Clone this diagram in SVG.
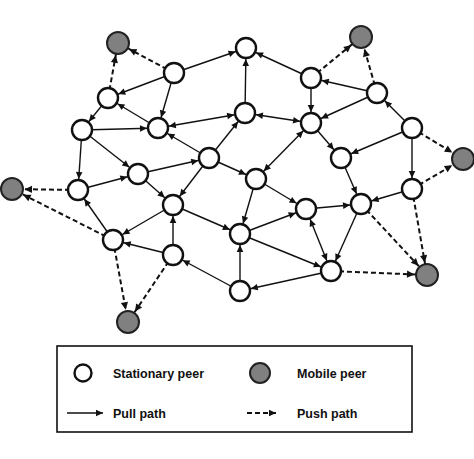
<svg xmlns="http://www.w3.org/2000/svg" width="474" height="459" viewBox="0 0 474 459">
<style>
.e{stroke:#111;stroke-width:1.4;fill:none;marker-end:url(#ah)}
.b{marker-start:url(#ah)}
.d{stroke:#111;stroke-width:2;stroke-dasharray:5 3;fill:none;marker-end:url(#ahm)}
.s{fill:#fff;stroke:#111;stroke-width:2.4}
.m{fill:#808080;stroke:#222;stroke-width:2}
.t{font-family:"Liberation Sans",Arial,sans-serif;font-size:12.5px;font-weight:bold;fill:#111}
</style>
<defs>
<marker id="ah" markerUnits="userSpaceOnUse" viewBox="-20 -5 22 10" refX="0" refY="0" markerWidth="22" markerHeight="10" orient="auto-start-reverse">
<path d="M-18,-3.3 L-11,0 L-18,3.3 z" fill="#111"/>
</marker>
<marker id="ahm" markerUnits="userSpaceOnUse" viewBox="-22 -5 24 10" refX="0" refY="0" markerWidth="24" markerHeight="10" orient="auto">
<path d="M-20,-3.6 L-12.5,0 L-20,3.6 z" fill="#111"/>
</marker>
<marker id="ahl" markerUnits="userSpaceOnUse" viewBox="-8 -5 10 10" refX="0" refY="0" markerWidth="10" markerHeight="10" orient="auto">
<path d="M-7,-3.3 L0,0 L-7,3.3 z" fill="#111"/>
</marker>
</defs>
<g id="connectors">
<line class="e" x1="174" y1="73" x2="246" y2="48"/>
<line class="e" x1="174" y1="73" x2="108" y2="98"/>
<line class="e" x1="174" y1="73" x2="158" y2="128"/>
<line class="e" x1="158" y1="128" x2="108" y2="98"/>
<line class="e" x1="108" y1="98" x2="82" y2="130"/>
<line class="e" x1="82" y1="130" x2="158" y2="128"/>
<line class="e b" x1="158" y1="128" x2="245" y2="113"/>
<line class="e" x1="209" y1="158" x2="158" y2="128"/>
<line class="e" x1="82" y1="130" x2="78" y2="190"/>
<line class="e" x1="82" y1="130" x2="138" y2="174"/>
<line class="e" x1="138" y1="174" x2="209" y2="158"/>
<line class="e" x1="78" y1="190" x2="138" y2="174"/>
<line class="e" x1="113" y1="240" x2="78" y2="190"/>
<line class="e" x1="209" y1="158" x2="173" y2="205"/>
<line class="e" x1="138" y1="174" x2="173" y2="205"/>
<line class="e" x1="173" y1="205" x2="113" y2="240"/>
<line class="e" x1="173" y1="255" x2="173" y2="205"/>
<line class="e" x1="173" y1="255" x2="113" y2="240"/>
<line class="e" x1="173" y1="205" x2="240" y2="234"/>
<line class="e" x1="240" y1="291" x2="173" y2="255"/>
<line class="e" x1="311" y1="78" x2="246" y2="48"/>
<line class="e" x1="377" y1="93" x2="311" y2="78"/>
<line class="e" x1="311" y1="78" x2="311" y2="123"/>
<line class="e" x1="377" y1="93" x2="311" y2="123"/>
<line class="e" x1="412" y1="128" x2="377" y2="93"/>
<line class="e" x1="412" y1="128" x2="341" y2="158"/>
<line class="e" x1="311" y1="123" x2="341" y2="158"/>
<line class="e b" x1="245" y1="113" x2="311" y2="123"/>
<line class="e" x1="245" y1="113" x2="246" y2="48"/>
<line class="e" x1="209" y1="158" x2="245" y2="113"/>
<line class="e" x1="209" y1="158" x2="256" y2="179"/>
<line class="e b" x1="256" y1="179" x2="311" y2="123"/>
<line class="e" x1="256" y1="179" x2="306" y2="209"/>
<line class="e" x1="256" y1="179" x2="240" y2="234"/>
<line class="e" x1="240" y1="234" x2="306" y2="209"/>
<line class="e" x1="306" y1="209" x2="361" y2="204"/>
<line class="e b" x1="306" y1="209" x2="331" y2="271"/>
<line class="e" x1="240" y1="234" x2="331" y2="271"/>
<line class="e" x1="361" y1="204" x2="331" y2="271"/>
<line class="e" x1="240" y1="291" x2="240" y2="234"/>
<line class="e" x1="331" y1="271" x2="240" y2="291"/>
<line class="e" x1="341" y1="158" x2="361" y2="204"/>
<line class="e" x1="412" y1="189" x2="361" y2="204"/>
<line class="e" x1="412" y1="128" x2="412" y2="189"/>
<line class="d" x1="174" y1="73" x2="118" y2="43"/>
<line class="d" x1="108" y1="98" x2="118" y2="43"/>
<line class="d" x1="311" y1="78" x2="361" y2="37"/>
<line class="d" x1="377" y1="93" x2="361" y2="37"/>
<line class="d" x1="412" y1="128" x2="463" y2="159"/>
<line class="d" x1="412" y1="189" x2="463" y2="159"/>
<line class="d" x1="412" y1="189" x2="427" y2="275"/>
<line class="d" x1="361" y1="204" x2="427" y2="275"/>
<line class="d" x1="331" y1="271" x2="427" y2="275"/>
<line class="d" x1="78" y1="190" x2="12" y2="189"/>
<line class="d" x1="113" y1="240" x2="12" y2="189"/>
<line class="d" x1="113" y1="240" x2="128" y2="322"/>
<line class="d" x1="173" y1="255" x2="128" y2="322"/>
</g>
<g id="nodes">
<circle id="F" class="s" cx="246" cy="48" r="10"/>
<circle id="A" class="s" cx="174" cy="73" r="10"/>
<circle id="G" class="s" cx="311" cy="78" r="10"/>
<circle id="H" class="s" cx="377" cy="93" r="10"/>
<circle id="B" class="s" cx="108" cy="98" r="10"/>
<circle id="I" class="s" cx="245" cy="113" r="10"/>
<circle id="J" class="s" cx="311" cy="123" r="10"/>
<circle id="K" class="s" cx="412" cy="128" r="10"/>
<circle id="D" class="s" cx="158" cy="128" r="10"/>
<circle id="C" class="s" cx="82" cy="130" r="10"/>
<circle id="E" class="s" cx="209" cy="158" r="10"/>
<circle id="L" class="s" cx="341" cy="158" r="10"/>
<circle id="S" class="s" cx="256" cy="179" r="10"/>
<circle id="N" class="s" cx="138" cy="174" r="10"/>
<circle id="M" class="s" cx="78" cy="190" r="10"/>
<circle id="W" class="s" cx="412" cy="189" r="10"/>
<circle id="O" class="s" cx="173" cy="205" r="10"/>
<circle id="X" class="s" cx="361" cy="204" r="10"/>
<circle id="U" class="s" cx="306" cy="209" r="10"/>
<circle id="Y" class="s" cx="240" cy="234" r="10"/>
<circle id="P" class="s" cx="113" cy="240" r="10"/>
<circle id="Q" class="s" cx="173" cy="255" r="10"/>
<circle id="Z" class="s" cx="331" cy="271" r="10"/>
<circle id="AA" class="s" cx="240" cy="291" r="10"/>
<circle id="MTL" class="m" cx="118" cy="43" r="11"/>
<circle id="MTR" class="m" cx="361" cy="37" r="11"/>
<circle id="MR" class="m" cx="463" cy="159" r="11"/>
<circle id="ML" class="m" cx="12" cy="189" r="11"/>
<circle id="MB" class="m" cx="128" cy="322" r="11"/>
<circle id="MBR" class="m" cx="427" cy="275" r="11"/>
</g>
<g id="legend">
<rect x="57" y="346" width="355" height="86" fill="#fff" stroke="#111" stroke-width="1.6"/>
<circle class="s" cx="83" cy="373" r="8.5" stroke-width="2"/>
<text class="t" x="113" y="378">Stationary peer</text>
<circle class="m" cx="260" cy="373" r="10"/>
<text class="t" x="297" y="378">Mobile peer</text>
<line x1="67" y1="413" x2="103" y2="413" stroke="#111" stroke-width="1.4" marker-end="url(#ahl)"/>
<text class="t" x="113" y="418">Pull path</text>
<line x1="247" y1="413" x2="276" y2="413" stroke="#111" stroke-width="2" stroke-dasharray="5 3" marker-end="url(#ahl)"/>
<text class="t" x="297" y="418">Push path</text>
</g>
</svg>
